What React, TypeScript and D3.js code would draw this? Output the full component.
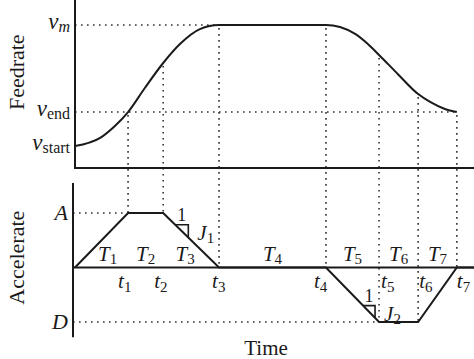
import * as d3 from 'd3'

// S-curve feedrate profile (top) and trapezoidal acceleration (bottom)
const TIME_MAX = 100

// phase boundaries t0..t7
const phaseTimes = [0, 13.3, 22.1, 36.1, 62.9, 76.2, 86.0, 95.7]
// feedrate at each boundary
const phaseFeed = [0.131, 0.333, 0.625, 0.851, 0.851, 0.673, 0.44, 0.333]
// acceleration at each boundary
const phaseAccel = [0, 1, 1, 0, 0, -1, -1, 0]

// sampled feedrate curve
const feedTimes = [0, 6.3, 10.0, 13.3, 17.5, 22.1, 26.3, 31.3, 36.1, 62.9, 66.4, 70.2, 73.4, 76.2, 81.0, 86.0, 89.0, 92.7, 95.7]
const feedValues = [0.131, 0.179, 0.25, 0.333, 0.476, 0.625, 0.738, 0.827, 0.851, 0.851, 0.839, 0.798, 0.738, 0.673, 0.557, 0.44, 0.393, 0.351, 0.333]

// acceleration profile
const accelTimes = [0, 13.3, 22.1, 36.1, 62.9, 76.2, 86.0, 95.7, 100]
const accelValues = [0, 1, 1, 0, 0, -1, -1, 0, 0]

// y-axis tick labels
const feedTicks = [0.851, 0.333, 0.131]
const feedTickSubs = ['m', 'end', 'start']
const accelTicks = [1, -1]
const accelTickNames = ['A', 'D']

// jerk triangles: start time on the ramp, width in time
const jerkStarts = [25.1, 72.2]
const jerkWidths = [3.3, 3.0]

const W = 474, H = 359
const INK = '#1a1a1a'
const FONT = '"Liberation Serif", "DejaVu Serif", serif'

export default function App() {
  const x = d3.scaleLinear().domain([0, TIME_MAX]).range([75, 474])
  const yF = d3.scaleLinear().domain([0, 1]).range([168, 0])
  const yA = d3.scaleLinear().domain([-1, 1]).range([322, 213])

  const feedLine = d3.line<number>()
    .x((d, i) => x(feedTimes[i]))
    .y(d => yF(d))
    .curve(d3.curveMonotoneX)
  const accelLine = d3.line<number>()
    .x((d, i) => x(accelTimes[i]))
    .y(d => yA(d))

  const accelAt = d3.scaleLinear().domain(accelTimes).range(accelValues)

  const dot = { stroke: '#333', strokeWidth: 1.6, strokeDasharray: '1.6,4.4', fill: 'none' }
  const axisX = x(0)
  const accelAxisX = axisX - 2

  // label offsets for t_i (below zero line) — t5..t7 sit right of their guides
  const tDx = [0, -10, -9, -7, -12, 2, 1, 0]
  const tDy = 20

  const sub = 15
  const main = 21

  return (
    <svg width={W} height={H} style={{ position: 'fixed', left: 0, top: 0, background: '#fff' }}
      fontFamily={FONT} fill={INK}>
      {/* guide lines */}
      <line x1={axisX} x2={x(phaseTimes[3])} y1={yF(feedTicks[0])} y2={yF(feedTicks[0])} {...dot} />
      <line x1={axisX} x2={x(phaseTimes[7])} y1={yF(feedTicks[1])} y2={yF(feedTicks[1])} {...dot} />
      <line x1={accelAxisX} x2={x(phaseTimes[1])} y1={yA(1)} y2={yA(1)} {...dot} />
      <line x1={accelAxisX} x2={x(phaseTimes[5])} y1={yA(-1)} y2={yA(-1)} {...dot} />
      {phaseTimes.slice(1).map((t, i) => (
        <line key={i} x1={x(t)} x2={x(t)} y1={yF(phaseFeed[i + 1]) + 3} y2={yA(phaseAccel[i + 1])} {...dot} />
      ))}

      {/* axes */}
      <path d={`M${axisX},0V${yF(0)}H${W}`} fill="none" stroke={INK} strokeWidth={2} />
      <path d={`M${accelAxisX},${yA(1.55)}V${yA(-1.28)}`} fill="none" stroke={INK} strokeWidth={2} />
      <line x1={accelAxisX} x2={W} y1={yA(0)} y2={yA(0)} stroke={INK} strokeWidth={2} />

      {/* curves */}
      <path d={feedLine(feedValues) || ''} fill="none" stroke={INK} strokeWidth={2} />
      <path d={accelLine(accelValues) || ''} fill="none" stroke={INK} strokeWidth={2} strokeLinejoin="miter" />

      {/* jerk triangles */}
      {jerkStarts.map((t0, i) => {
        const t1 = t0 + jerkWidths[i]
        const xa = x(t0), xb = x(t1)
        const ya = yA(accelAt(t0)), yb = yA(accelAt(t1))
        return (
          <g key={i}>
            <path d={`M${xa},${ya}H${xb}V${yb}`} fill="none" stroke={INK} strokeWidth={1.6} />
            <text x={(xa + xb) / 2} y={ya - 4} textAnchor="middle" fontSize={18}>1</text>
            <text x={xb + 9} y={(ya + yb) / 2 + 9} fontSize={main}>
              <tspan fontStyle="italic">J</tspan>
              <tspan fontSize={sub} dy={3}>{i + 1}</tspan>
            </text>
          </g>
        )
      })}

      {/* feed tick labels */}
      {feedTicks.map((v, i) => (
        <text key={i} x={axisX - 5} y={yF(v) + 4} textAnchor="end" fontSize={main + 2}>
          <tspan fontStyle="italic">v</tspan>
          <tspan fontSize={sub + 1} dy={3} fontStyle={i === 0 ? 'italic' : 'normal'}>{feedTickSubs[i]}</tspan>
        </text>
      ))}
      {accelTicks.map((a, i) => (
        <text key={i} x={accelAxisX - 5} y={yA(a) + 7} textAnchor="end" fontSize={main + 1} fontStyle="italic">
          {accelTickNames[i]}
        </text>
      ))}

      {/* t_i labels */}
      {phaseTimes.slice(1).map((t, i) => (
        <text key={i} x={x(t) + tDx[i + 1]} y={yA(0) + tDy} fontSize={main}>
          <tspan fontStyle="italic">t</tspan>
          <tspan fontSize={sub} dy={4}>{i + 1}</tspan>
        </text>
      ))}

      {/* T_i labels */}
      {phaseTimes.slice(1).map((t, i) => {
        const mid = (x(phaseTimes[i]) + x(t)) / 2 + (i === 0 ? 6 : i === 2 ? -6 : 0)
        return (
          <text key={i} x={mid} y={yA(0) - 7} textAnchor="middle" fontSize={main}>
            <tspan fontStyle="italic">T</tspan>
            <tspan fontSize={sub} dy={3}>{i + 1}</tspan>
          </text>
        )
      })}

      {/* axis titles */}
      <text transform={`translate(24,${yF(0.57)}) rotate(-90)`} textAnchor="middle" fontSize={22}>Feedrate</text>
      <text transform={`translate(24,${yA(0.18)}) rotate(-90)`} textAnchor="middle" fontSize={22}>Accelerate</text>
      <text x={266} y={355} textAnchor="middle" fontSize={21}>Time</text>
    </svg>
  )
}
